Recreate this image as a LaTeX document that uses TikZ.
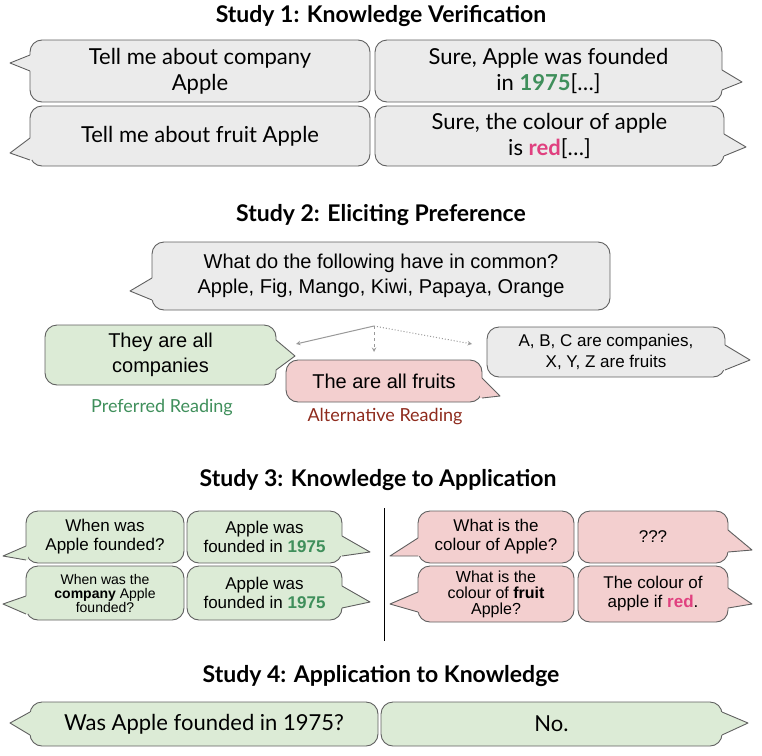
\documentclass[tikz,border=0pt]{standalone}
\usepackage{fontspec}
\setmainfont{Lato}
\newfontfamily\hel{Liberation Sans}
\definecolor{gfill}{HTML}{EBEBEB}
\definecolor{grfill}{HTML}{DCEBD6}
\definecolor{rdfill}{HTML}{F3CFCF}
\definecolor{bord}{HTML}{606060}
\definecolor{gtxt}{HTML}{3F8F5B}
\definecolor{ptxt}{HTML}{E0407F}
\definecolor{drtxt}{HTML}{8E2A1C}
\newcommand{\bub}[7]{% name x1 y1 x2 y2 fill tail
  \node[draw=bord,line width=0.9pt,fill=#6,rounded corners=12pt,inner sep=0pt,
    minimum width=#4-#2,minimum height=#5-#3,align=center] (#1) at ({(#2+#4)/2},{(#3+#5)/2}) {};
  #7
}
\newcommand{\tail}[7]{% edge-x, b1, b2, tipx, tipy, fill, inward offset
  \fill[#6] ({#1+#7},#2) -- (#1,#2) -- (#4,#5) -- (#1,#3) -- ({#1+#7},#3) -- cycle;
  \draw[bord,line width=0.9pt,line join=round] (#1,#2) -- (#4,#5) -- (#1,#3);
}
\tikzset{ttl/.style={font=\bfseries\fontsize{23}{27}\selectfont},
  t1/.style={font=\fontsize{22}{26}\selectfont,align=center},
  t2/.style={font=\hel\fontsize{20}{25}\selectfont,align=center},
  t3/.style={font=\hel\fontsize{17}{19}\selectfont,align=center},
  t3s/.style={font=\hel\fontsize{14}{14}\selectfont,align=center},
  arr/.style={->,draw=gray!80,line width=1pt,>=stealth}}
\begin{document}
\begin{tikzpicture}[x=1pt,y=-1pt]
\useasboundingbox (0,0) rectangle (762,755);
% Study 1
\node[ttl] (s1) at (381,16) {Study 1: Knowledge Verification};
\bub{a}{30}{40}{370}{102}{gfill}{\tail{30}{55}{71}{10}{63}{gfill}{2}}
\node[t1] at (a) {Tell me about company\\Apple};
\bub{b}{375}{40}{722}{102}{gfill}{\tail{722}{70}{90}{742}{82}{gfill}{-2}}
\node[t1] at (b) {Sure, Apple was founded\\in \textbf{\color{gtxt}1975}[\dots]};
\bub{c}{30}{106}{370}{166}{gfill}{\tail{30}{138}{160}{10}{153}{gfill}{2}}
\node[t1] at (c) {Tell me about fruit Apple};
\bub{d}{375}{106}{724}{166}{gfill}{\tail{724}{134}{156}{746}{147}{gfill}{-2}}
\node[t1] at (d) {Sure, the colour of apple\\is \textbf{\color{ptxt}red}[\dots]};
% Study 2
\node[ttl] (s2) at (381,215) {Study 2: Eliciting Preference};
\bub{q}{152}{242}{610}{310}{gfill}{\tail{152}{278}{300}{130}{291}{gfill}{2}}
\node[t2] at (q) {What do the following have in common?\\Apple, Fig, Mango, Kiwi, Papaya, Orange};
\bub{g}{45}{325}{276}{385}{grfill}{\tail{276}{340}{370}{295}{356}{grfill}{-2}}
\node[t2] at (g) {They are all\\companies};
\bub{r}{286}{360}{482}{402}{rdfill}{\tail{482}{378}{398}{500}{396}{rdfill}{-2}}
\node[t2] at (r) {The are all fruits};
\bub{x}{487}{327}{725}{377}{gfill}{\tail{725}{345}{370}{750}{360}{gfill}{-2}}
\node[font=\hel\fontsize{17}{21}\selectfont,align=center] at (x) {A, B, C are companies,\\X, Y, Z are fruits};
\coordinate (o) at (374,326);
\draw[arr] (o) -- (296,344);
\draw[arr,dashed] (o) -- (374,352);
\draw[arr,dotted] (o) -- (472,344);
\node[font=\fontsize{18}{20}\selectfont,text=gtxt] (pl) at (162,408) {Preferred Reading};
\node[font=\fontsize{18}{20}\selectfont,text=drtxt] (al) at (385,417) {Alternative Reading};
% Study 3
\node[ttl] (s3) at (378,480) {Study 3: Knowledge to Application};
\draw[line width=1pt] (384,508) -- (384,641);
\bub{p1}{26}{511}{184}{563}{grfill}{\tail{26}{546}{560}{3}{556}{grfill}{2}}
\node[t3] at (p1) {When was\\Apple founded?};
\bub{p2}{187}{511}{342}{563}{grfill}{\tail{342}{536}{556}{370}{552}{grfill}{-2}}
\node[t3] at (p2) {Apple was\\founded in \textbf{\color{gtxt}1975}};
\bub{p3}{26}{566}{184}{620}{grfill}{\tail{26}{596}{614}{3}{604}{grfill}{2}}
\node[t3s] at (p3) {When was the\\\textbf{company} Apple\\founded?};
\bub{p4}{187}{566}{342}{620}{grfill}{\tail{342}{586}{608}{370}{602}{grfill}{-2}}
\node[t3] at (p4) {Apple was\\founded in \textbf{\color{gtxt}1975}};
\bub{r1}{418}{511}{574}{563}{rdfill}{\tail{418}{538}{556}{390}{556}{rdfill}{2}}
\node[t3] at (r1) {What is the\\colour of Apple?};
\bub{r2}{578}{511}{728}{563}{rdfill}{\tail{728}{530}{552}{752}{550}{rdfill}{-2}}
\node[t3] at (r2) {???};
\bub{r3}{418}{566}{574}{622}{rdfill}{\tail{418}{592}{612}{390}{604}{rdfill}{2}}
\node[font=\hel\fontsize{16}{16}\selectfont,align=center] at (r3) {What is the\\colour of \textbf{fruit}\\Apple?};
\bub{r4}{578}{566}{728}{622}{rdfill}{\tail{728}{588}{608}{752}{604}{rdfill}{-2}}
\node[t3] at (r4) {The colour of\\apple if \textbf{\color{ptxt}red}.};
% Study 4
\node[ttl] (s4) at (381,676) {Study 4: Application to Knowledge};
\bub{u}{30}{702}{378}{746}{grfill}{\tail{30}{712}{735}{10}{723}{grfill}{2}}
\node[t1] at (u) {Was Apple founded in 1975?};
\bub{v}{381}{702}{722}{746}{grfill}{\tail{722}{712}{735}{748}{723}{grfill}{-2}}
\node[t1] at (v) {No.};
\end{tikzpicture}
\end{document}
